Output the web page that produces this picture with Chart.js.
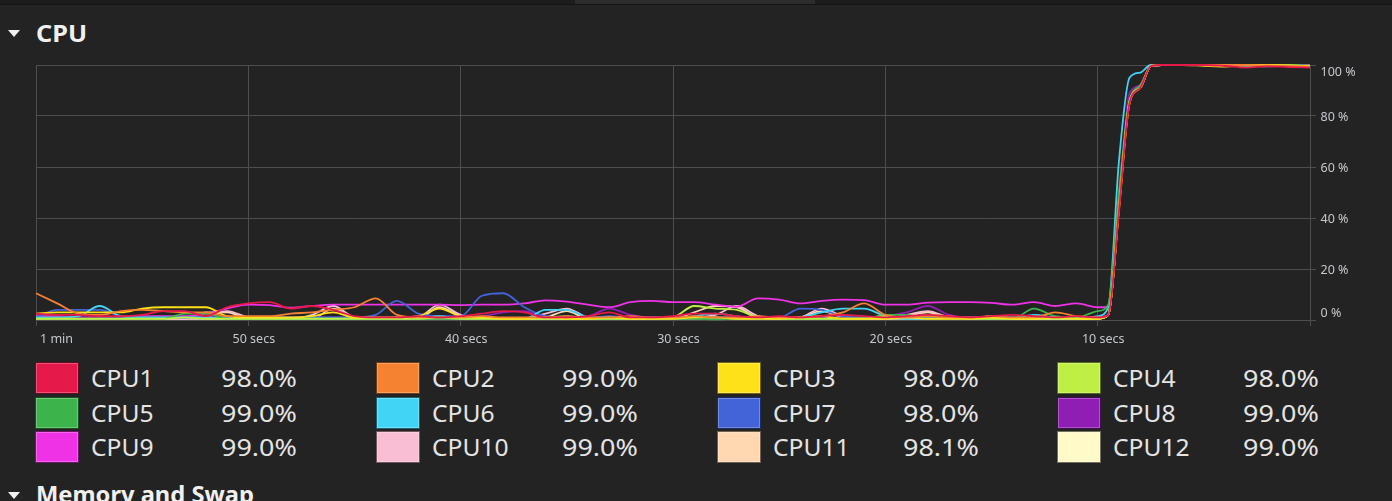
<!DOCTYPE html>
<html>
<head>
<meta charset="utf-8">
<script src="https://cdn.jsdelivr.net/npm/chart.js@4.4.1/dist/chart.umd.min.js"></script>
<style>
  html, body { margin: 0; padding: 0; }
  body { width: 1392px; height: 501px; overflow: hidden; background: #232323; font-family: "Noto Sans", sans-serif; color: #e6e6e6; position: relative; }
  #topbar { position: absolute; left: 0; top: 0; width: 1392px; height: 4px; background: #1c1c1c; border-bottom: 1px solid #151515; }
  #toptab { position: absolute; left: 575px; top: 0; width: 240px; height: 4px; background: #2c2c2c; }
  .head { position: absolute; left: 36px; font-weight: bold; font-size: 23px; line-height: 31px; color: #f0f0f0; white-space: nowrap; transform-origin: 0 50%; }
  .tri { position: absolute; left: 8px; width: 0; height: 0; border-left: 6px solid transparent; border-right: 6px solid transparent; border-top: 7px solid #f0f0f0; }
  #chart { position: absolute; left: 0; top: 0; }
  .leg { position: absolute; height: 32px; width: 320px; }
  .box { position: absolute; left: 0; top: 0; width: 42px; height: 30px; border: 1px solid; box-shadow: inset 0 0 0 1px rgba(255,255,255,0.25); }
  .lab { position: absolute; left: 56px; top: 0; font-size: 23px; line-height: 32px; color: #e4e4e4; white-space: nowrap; transform: scaleX(1.07); transform-origin: 0 50%; }
  .val { position: absolute; left: 186px; top: 0; font-size: 23px; line-height: 32px; color: #e4e4e4; white-space: nowrap; transform: scaleX(1.17); transform-origin: 0 50%; }
</style>
</head>
<body>
<div id="topbar"></div><div id="toptab"></div>
<div class="tri" style="top:30px"></div>
<div class="head" style="top:18px; transform: scaleX(1.1)">CPU</div>
<canvas id="chart" width="1392" height="355"></canvas>
<div id="legend"></div>
<div class="tri" style="top:492px"></div>
<div class="head" style="top:479px; transform: scaleX(1.03)">Memory and Swap</div>
<script>
// ---- data ----
const secondsAgo = [60,59,58,57,56,55,54,53,52,51, 50,49,48,47,46,45,44,43,42,41,
  40,39,38,37,36,35,34,33,32,31, 30,29,28,27,26,25,24,23,22,21,
  20,19,18,17,16,15,14,13,12,11, 10,9.5,9,8.5,8,7.5,7,6,5,4, 3,2,1,0];

const cpuNames = ["CPU1","CPU2","CPU3","CPU4","CPU5","CPU6","CPU7","CPU8","CPU9","CPU10","CPU11","CPU12"];
const cpuColors = ["#e6194b","#f58231","#ffe119","#bfef45","#3cb44b","#42d4f4","#4363d8","#911eb4","#f032e6","#fabed4","#ffd8b1","#fffac8"];
const cpuCurrent = ["98.0%","99.0%","98.0%","98.0%","99.0%","99.0%","98.0%","99.0%","99.0%","99.0%","98.1%","99.0%"];

const cpu1 = [2.5,2,2,1.5,1.5,2,3.5,3.5,1.5,5, 6.5,7,4.5,5.5,4,1.5,1,1,1.5,1,
  1.5,2.5,3.5,3,1,1,1.5,3,1,1, 1.5,2.5,2.5,1.5,1,1.5,1,1.5,2,1.5,
  1,1.5,2,1.5,1,1.5,2,1.5,1,1.5, 1,2,42,85,91,99.5,100,100,100,99.6, 99,99.5,99.2,99];
const cpu2 = [10.5,6.5,2.5,2,3.5,4,3.5,3,3,1.5, 1.5,1.5,2.5,3,4,5,8.5,2,1,1,
  1,1.5,1,1,1,1.5,1,1,1.5,1, 1,1.5,1,1,1.5,1,1,1.5,3,6.5,
  2,1,1.5,1,1,1.5,1,1,3,1.5, 1,2,45,85,91,99.5,100,100,100,100, 100,99.8,99.6,99.3];
const cpu3 = [2.5,3,3,3,3,4.5,5,5,5,1.5, 1,1,1,1.5,3,1,1,1,1.5,4.5,
  1.5,1,0.5,0.5,1,0.5,0.5,1,0.5,0.5, 0.5,1,1,0.5,0.5,0.5,1,1.5,0.5,0.5,
  0.5,1,0.5,0.5,0.5,1,0.5,0.5,1,0.5, 0.5,2,43,85,91,99.5,100,100,99.7,99.4, 100,100,99.8,99.5];
const cpu4 = [0.5,0.5,0.5,0.5,0.5,0.5,0.5,1,0.5,0.5, 0.5,0.5,0.5,0.5,0.5,0.5,0.5,0.5,0.5,1,
  0.5,0.5,0.5,0.5,0.5,0.5,0.5,0.5,0.5,0.5, 1,5.5,4.5,4,1,0.5,0.5,0.5,0.5,0.5,
  1.5,1,2,1.5,0.5,0.5,0.5,0.5,0.5,0.5, 0.5,2,44,86,91,99.5,100,100,100,99.8, 99.8,100,99.8,99.5];
const cpu5 = [0.5,0.5,0.5,0.5,0.5,0.5,0.5,2.5,2.5,0.5, 0.5,0.5,0.5,0.5,0.5,0.5,0.5,0.5,0.5,0.5,
  0.5,0.5,0.5,0.5,1,1.5,0.5,0.5,0.5,0.5, 0.5,0.5,0.3,0.5,0.5,0.5,0.5,0.5,0.5,0.5,
  2,2,0.5,0.5,0.5,0.5,0.5,4.5,1.5,1, 3.5,6,50,86,92,99.5,100,100,100,100, 100,99.8,100,99.7];
const cpu6 = [1,1,1.5,5.5,1.5,1,1,1,1,0.5, 0.5,0.5,0.5,0.5,0.5,0.5,0.5,1,0.5,1.5,
  0.5,0.5,0.5,0.5,4,4,1,0.5,0.5,0.5, 0.5,1.5,2.5,1.5,0.5,0.5,1,3,4.5,4.5,
  1.5,0.5,0.5,0.5,0.5,0.5,0.5,2,1,0.5, 1.5,5,62,95,97,100,100,100,100,100, 99.8,99.5,99.6,99.3];
const cpu7 = [1,4,4,4,1.5,1,1,1,1,1, 1,1,1,1,1,1,2,7.5,2.5,1.5,
  1.5,9.5,10.5,5,1.5,1,1,1.5,1,1, 1,1,1,1,1,1,4.5,4,1.5,1,
  1,1,1,1,1,1,1,1,1,1, 1,2,44,86,91,99.5,100,100,100,100, 99.8,99.8,100,99.6];
const cpu8 = [1,1,1,1,1,1,1,1,1,1, 1,1,1,1,1,1,1,1,1,1,
  1,1.5,3,3.5,1,1,1.5,4.5,2,1, 1,1,1,1,1,1,1,1,1,1,
  1.5,3,5.5,2,1,1,1,1,1,1, 1,2,45,89,92,99.5,100,100,100,100, 100,100,99.8,99.7];
const cpu9 = [1.5,1.5,1,1,1,1.5,1.5,1.5,2.5,4.5, 6,5.8,4.8,5.5,6,6,6,6,6,6,
  5.8,6,6,6.5,7.7,7.2,6,5,7,7.5, 7,7,6,5.2,8.5,8,6.5,7.5,8,7.8,
  6,6,6.8,7,7,6.7,6,7,5.5,6.5, 5,5,44,86,91,99.5,100,100,100,100, 100,100,100,99.7];
const cpu10 = [0.5,0.5,0.5,0.5,0.5,0.5,0.5,0.5,1,3.5, 1,0.5,0.5,2,5.5,1,0.5,0.5,1,6,
  2,0.5,0.5,0.5,2.5,4.5,1,0.5,0.5,0.5, 0.5,1,2,5.5,1.5,0.5,1,4.5,1.5,0.5,
  0.5,2,3.5,1,0.5,0.5,0.5,0.5,0.5,0.5, 0.5,2,44,86,91,99.5,100,100,100,100, 100,100,99.8,99.7];
const cpu11 = [0.5,0.5,0.5,0.5,0.5,0.5,0.5,0.5,3,3, 0.5,0.5,0.5,0.5,4.5,1,0.5,0.5,0.5,5,
  1.5,0.5,0.5,0.5,1,3.5,0.5,0.5,0.5,0.5, 0.5,3,5.5,5,1,0.5,1,3.5,1,0.5,
  0.5,1.5,3,1,0.5,1.5,0.5,0.5,0.5,0.5, 0.5,2,44,86,91,99.5,100,100,100,100, 100,99.8,99.8,99.6];
const cpu12 = [0.5,0.5,0.5,0.5,0.5,0.5,1,0.5,0.5,0.5, 0.5,0.5,0.5,0.5,0.5,0.5,0.5,0.5,0.5,0.5,
  0.5,0.5,0.5,0.5,0.5,0.5,0.5,0.5,0.5,0.5, 0.5,0.5,0.5,0.5,0.5,0.5,0.5,0.5,0.5,0.5,
  0.5,0.5,0.5,0.5,0.5,0.5,0.5,0.5,0.5,0.5, 0.5,2,44,86,91,99.5,100,100,100,100, 100,100,100,99.8];

const cpuSeries = [cpu1,cpu2,cpu3,cpu4,cpu5,cpu6,cpu7,cpu8,cpu9,cpu10,cpu11,cpu12];
const xTickValues = [60,50,40,30,20,10];
const xTickLabels = ["1 min","50 secs","40 secs","30 secs","20 secs","10 secs"];
const yTickValues = [100,80,60,40,20,0];
const yTickLabels = ["100 %","80 %","60 %","40 %","20 %","0 %"];

// ---- chart ----
const gridColor = "#4d4d4d";
const labelColor = "#c4c8cc";

const tickLabelPlugin = {
  id: "tickLabels",
  afterDraw(chart) {
    const ctx = chart.ctx, xs = chart.scales.x, ys = chart.scales.y, area = chart.chartArea;
    ctx.save();
    ctx.font = '12.5px "Noto Sans"';
    ctx.fillStyle = labelColor;
    ctx.textBaseline = "middle";
    xTickValues.forEach((v, i) => {
      const px = xs.getPixelForValue(v);
      if (i === 0) { ctx.textAlign = "left"; ctx.fillText(xTickLabels[i], px + 4, area.bottom + 19); }
      else { ctx.textAlign = "center"; ctx.fillText(xTickLabels[i], px + 5.5, area.bottom + 19); }
    });
    ctx.textAlign = "left";
    yTickValues.forEach((v, i) => {
      let py = ys.getPixelForValue(v) + 1;
      py = Math.max(area.top + 7, Math.min(area.bottom - 7, py));
      ctx.fillText(yTickLabels[i], area.right + 10.5, py);
    });
    ctx.restore();
  }
};

const datasets = cpuSeries.map((s, k) => ({
  label: cpuNames[k],
  data: secondsAgo.map((t, i) => ({ x: t, y: s[i] })),
  borderColor: cpuColors[k],
  backgroundColor: cpuColors[k],
  borderWidth: 1.8,
  pointRadius: 0,
  cubicInterpolationMode: "monotone",
  fill: false,
  clip: 3
}));

new Chart(document.getElementById("chart"), {
  type: "line",
  data: { datasets },
  options: {
    responsive: false,
    animation: false,
    devicePixelRatio: 1,
    layout: { padding: { left: 36, top: 65, right: 76, bottom: 29 } },
    plugins: { legend: { display: false }, tooltip: { enabled: false } },
    scales: {
      x: {
        type: "linear", min: 0, max: 60, reverse: true,
        ticks: { display: false, stepSize: 10 },
        grid: { color: gridColor, lineWidth: 1, tickLength: 6, drawTicks: true },
        border: { color: gridColor }
      },
      y: {
        position: "right", min: 0, max: 100,
        ticks: { display: false, stepSize: 20 },
        grid: { color: gridColor, lineWidth: 1, tickLength: 6, drawTicks: true },
        border: { color: gridColor }
      }
    }
  },
  plugins: [tickLabelPlugin]
});

// ---- legend ----
const legend = document.getElementById("legend");
const colX = [35, 376, 717, 1057];
const rowY = [362, 397, 431];
function darker(hex) {
  const n = parseInt(hex.slice(1), 16);
  const r = (n >> 16) & 255, g = (n >> 8) & 255, b = n & 255;
  return `rgb(${Math.round(r*0.45)},${Math.round(g*0.45)},${Math.round(b*0.45)})`;
}
cpuNames.forEach((name, k) => {
  const d = document.createElement("div");
  d.className = "leg";
  d.style.left = colX[k % 4] + "px";
  d.style.top = rowY[Math.floor(k / 4)] + "px";
  d.innerHTML = `<div class="box" style="background:${cpuColors[k]};border-color:${darker(cpuColors[k])}"></div>` +
    `<div class="lab">${name}</div><div class="val">${cpuCurrent[k]}</div>`;
  legend.appendChild(d);
});
</script>
</body>
</html>
